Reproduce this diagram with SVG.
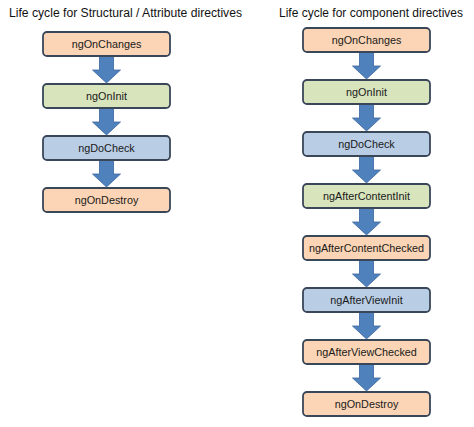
<svg xmlns="http://www.w3.org/2000/svg" xmlns:xlink="http://www.w3.org/1999/xlink" width="474" height="427" viewBox="0 0 474 427">
<style>
.title{font-family:"Liberation Sans",Arial,sans-serif;font-size:12px;fill:#111}
.box{stroke:#3a4759;stroke-width:1.8}
.o{fill:#fbd5b5}
.g{fill:#d8e4bc}
.b{fill:#b9cde5}
.lbl{font-family:"Liberation Sans",Arial,sans-serif;font-size:10.8px;fill:#1a1a1a;text-anchor:middle}
.arr{fill:#4f81bd;stroke:#3a65a0;stroke-width:0.8}
</style>
<defs>
<path id="arrow" d="M-7,0 H7 V14 H14 L0,27 L-14,14 H-7 Z"/>
</defs>
<rect width="474" height="427" fill="#ffffff"/>
<text class="title" x="9" y="17" textLength="233" lengthAdjust="spacingAndGlyphs">Life cycle for Structural / Attribute directives</text>
<text class="title" x="279" y="17" textLength="184" lengthAdjust="spacingAndGlyphs">Life cycle for component directives</text>
<g id="connectors">
<use href="#arrow" xlink:href="#arrow" class="arr" x="106.5" y="56"/>
<use href="#arrow" xlink:href="#arrow" class="arr" x="106.5" y="108"/>
<use href="#arrow" xlink:href="#arrow" class="arr" x="106.5" y="160"/>
<use href="#arrow" xlink:href="#arrow" class="arr" x="366.5" y="52"/>
<use href="#arrow" xlink:href="#arrow" class="arr" x="366.5" y="104"/>
<use href="#arrow" xlink:href="#arrow" class="arr" x="366.5" y="156"/>
<use href="#arrow" xlink:href="#arrow" class="arr" x="366.5" y="208"/>
<use href="#arrow" xlink:href="#arrow" class="arr" x="366.5" y="260"/>
<use href="#arrow" xlink:href="#arrow" class="arr" x="366.5" y="312"/>
<use href="#arrow" xlink:href="#arrow" class="arr" x="366.5" y="364"/>
</g>
<g id="l-ngOnChanges"><rect class="box o" x="43" y="32" width="127" height="24" rx="4"/><text class="lbl" x="106.5" y="48">ngOnChanges</text></g>
<g id="l-ngOnInit"><rect class="box g" x="43" y="84" width="127" height="24" rx="4"/><text class="lbl" x="106.5" y="100">ngOnInit</text></g>
<g id="l-ngDoCheck"><rect class="box b" x="43" y="136" width="127" height="24" rx="4"/><text class="lbl" x="106.5" y="152">ngDoCheck</text></g>
<g id="l-ngOnDestroy"><rect class="box o" x="43" y="188" width="127" height="24" rx="4"/><text class="lbl" x="106.5" y="204">ngOnDestroy</text></g>
<g id="r-ngOnChanges"><rect class="box o" x="303" y="28" width="127" height="24" rx="4"/><text class="lbl" x="366.5" y="44">ngOnChanges</text></g>
<g id="r-ngOnInit"><rect class="box g" x="303" y="80" width="127" height="24" rx="4"/><text class="lbl" x="366.5" y="96">ngOnInit</text></g>
<g id="r-ngDoCheck"><rect class="box b" x="303" y="132" width="127" height="24" rx="4"/><text class="lbl" x="366.5" y="148">ngDoCheck</text></g>
<g id="r-ngAfterContentInit"><rect class="box g" x="303" y="184" width="127" height="24" rx="4"/><text class="lbl" x="366.5" y="200">ngAfterContentInit</text></g>
<g id="r-ngAfterContentChecked"><rect class="box o" x="303" y="236" width="127" height="24" rx="4"/><text class="lbl" x="366.5" y="252">ngAfterContentChecked</text></g>
<g id="r-ngAfterViewInit"><rect class="box b" x="303" y="288" width="127" height="24" rx="4"/><text class="lbl" x="366.5" y="304">ngAfterViewInit</text></g>
<g id="r-ngAfterViewChecked"><rect class="box o" x="303" y="340" width="127" height="24" rx="4"/><text class="lbl" x="366.5" y="356">ngAfterViewChecked</text></g>
<g id="r-ngOnDestroy"><rect class="box o" x="303" y="392" width="127" height="24" rx="4"/><text class="lbl" x="366.5" y="408">ngOnDestroy</text></g>
</svg>
